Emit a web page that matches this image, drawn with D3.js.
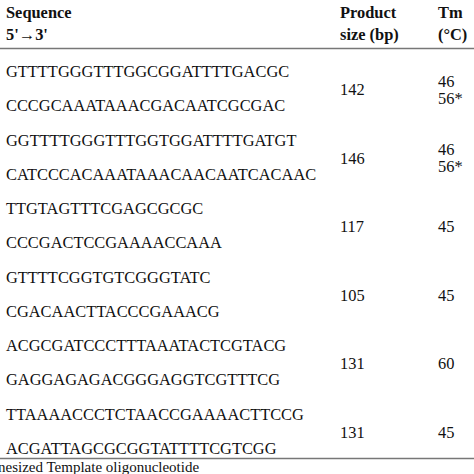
<!DOCTYPE html>
<html><head><meta charset="utf-8">
<script src="https://cdn.jsdelivr.net/npm/d3@7"></script>
<style>body{margin:0;background:#fff}</style></head>
<body><svg id="c" width="474" height="474"></svg>
<script>
const forwardSeqs=["GTTTTGGGTTTGGCGGATTTTGACGC","GGTTTTGGGTTTGGTGGATTTTGATGT","TTGTAGTTTCGAGCGCGC","GTTTTCGGTGTCGGGTATC","ACGCGATCCCTTTAAATACTCGTACG","TTAAAACCCTCTAACCGAAAACTTCCG"];
const reverseSeqs=["CCCGCAAATAAACGACAATCGCGAC","CATCCCACAAATAAACAACAATCACAAC","CCCGACTCCGAAAACCAAA","CGACAACTTACCCGAAACG","GAGGAGAGACGGGAGGTCGTTTCG","ACGATTAGCGCGGTATTTTCGTCGG"];
const productSizes=["142","146","117","105","131","131"];
const tmValues=[["46","56*"],["46","56*"],["45"],["45"],["60"],["45"]];
const headers=[["Sequence","5'\u21923'"],["Product","size (bp)"],["Tm","(\u00B0C)"]];
const footer="nesized Template oligonucleotide";

const svg=d3.select("#c");
const font="'Liberation Serif','Times New Roman',serif";
const colX=[6,340,438];
const y=d3.scaleLinear().domain([0,5]).range([90,433]);
const g=svg.append("g").attr("font-family",font).attr("font-size",16.4).attr("fill","#111");
headers.forEach((h,i)=>h.forEach((t,j)=>g.append("text").attr("x",colX[i]).attr("y",18+j*22).attr("font-weight","bold").text(t)));
svg.append("line").attr("x1",0).attr("x2",474).attr("y1",48.5).attr("y2",48.5).attr("stroke","#777").attr("stroke-width",1.5);
forwardSeqs.forEach((s,i)=>{
  g.append("text").attr("x",colX[0]).attr("y",y(i)-13).text(s);
  g.append("text").attr("x",colX[0]).attr("y",y(i)+21).text(reverseSeqs[i]);
  g.append("text").attr("x",colX[1]).attr("y",y(i)+5).text(productSizes[i]);
  const tm=tmValues[i];
  tm.forEach((t,j)=>g.append("text").attr("x",colX[2]).attr("y",y(i)+5+(tm.length>1?(j-0.5)*17:0)).text(t));
});
svg.append("line").attr("x1",0).attr("x2",474).attr("y1",458.5).attr("y2",458.5).attr("stroke","#777").attr("stroke-width",1.5);
g.append("text").attr("x",-2).attr("y",472).attr("font-size",15).text(footer);
</script></body></html>
